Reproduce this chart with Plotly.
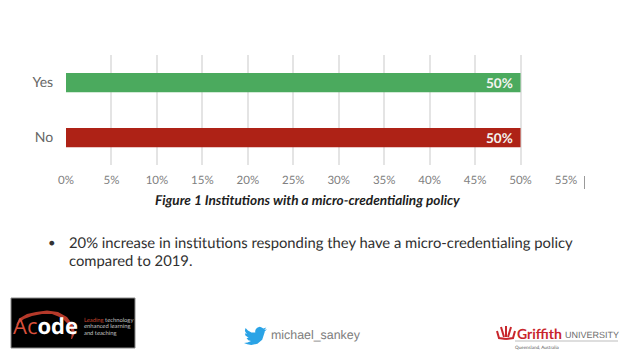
import plotly.graph_objects as go

categories = ["No", "Yes"]
values = [50, 50]
bar_colors = ["#AE2216", "#4BAA5E"]
x_ticks = list(range(0, 60, 5))
x_tick_labels = [f"{t}%" for t in x_ticks]
caption = "Figure 1 Institutions with a micro-credentialing policy"
bullet_lines = [
    "20% increase in institutions responding they have a micro-credentialing policy",
    "compared to 2019.",
]

W, H = 638, 359
L, R, T, B = 66, 72, 55, 194
PW, PH = W - L - R, H - T - B
SANS = "Lato, 'Open Sans', sans-serif"


def px(x):
    return (x - L) / PW


def py(y):
    return 1 - (y - T) / PH


def note(x, y, text, size, color, anchor="left", family=SANS):
    return dict(
        xref="paper", yref="paper", x=px(x), y=py(y), text=text, showarrow=False,
        xanchor=anchor, yanchor="middle", align=anchor,
        font=dict(size=size, color=color, family=family),
        borderpad=0, borderwidth=0,
    )


def poly(points, color):
    d = "M " + " L ".join(f"{px(a):.5f},{py(b):.5f}" for a, b in points) + " Z"
    return dict(type="path", xref="paper", yref="paper", path=d,
                fillcolor=color, line=dict(width=0), layer="above")


def stroke(points, color, width):
    d = "M " + " L ".join(f"{px(a):.5f},{py(b):.5f}" for a, b in points)
    return dict(type="path", xref="paper", yref="paper", path=d,
                line=dict(color=color, width=width), layer="above")


bird = [(23.95, 4.57), (21.13, 5.35), (23.29, 2.62), (20.16, 3.81), (18.5, 2.6), (16.5, 2.0),
        (14.2, 2.6), (12.4, 4.3), (11.65, 6.5), (11.78, 8.29), (7.69, 8.09), (4.1, 6.1),
        (1.64, 3.16), (0.97, 5.64), (1.4, 7.6), (3.16, 9.73), (0.93, 9.12), (1.5, 11.5),
        (4.88, 14.0), (2.67, 14.09), (4.4, 16.5), (7.27, 17.5), (3.8, 19.2), (0, 19.54),
        (3.5, 21.1), (7.56, 21.75), (14, 20.5), (19, 16), (21.55, 8.0), (21.54, 7.13)]
bird_px = [(244 + a * 23 / 24, 325 + b * 22 / 24) for a, b in bird]

swoosh = [(16, 325), (20, 318), (27, 314), (36, 312), (47, 310.5), (58, 312), (67, 317),
          (73, 325), (75, 333), (72, 339), (71, 339), (72, 332), (69, 325), (62, 318),
          (52, 314), (42, 314), (32, 316), (24, 319), (19, 323)]

fig = go.Figure(go.Bar(
    x=values, y=categories, orientation="h",
    marker=dict(color=bar_colors, line=dict(width=0)),
    hoverinfo="skip",
))

annotations = [
    dict(x=v, y=c, xref="x", yref="y", text=f"<b>{v}%</b>", showarrow=False,
         xanchor="right", xshift=-6, font=dict(size=13.5, color="#F4F4F0", family=SANS))
    for c, v in zip(categories, values)
]
annotations += [
    note(308, 199.5, f"<b><i>{caption}</i></b>", 13.6, "#1E1E1E", "center"),
    note(48, 242, "•", 13, "#333333"),
    note(69, 242, bullet_lines[0], 14.8, "#303030"),
    note(69, 260, bullet_lines[1], 14.8, "#303030"),
    note(271, 335, "michael_sankey", 12.4, "#7D7D7D", family="Liberation Sans"),
    # ACODE logo
    note(13, 325, "<span style='color:#D9503C'>Ac</span><b>ode</b>", 22, "#FFFFFF",
         family="'Open Sans', sans-serif"),
    note(84, 319, "<span style='color:#C8452F'>Leading</span> technology", 5.8, "#C4C4C4"),
    note(84, 325, "enhanced learning", 5.8, "#C4C4C4"),
    note(84, 332, "and teaching", 5.8, "#C4C4C4"),
    # Griffith logo
    note(517, 333.5, "<b>Griffith</b>", 14, "#C8262C"),
    note(565, 335, "UNIVERSITY", 9, "#6E6E6E", family="Liberation Sans"),
    note(515, 346.5, "Queensland, Australia", 4.6, "#555555"),
]

shapes = [
    dict(type="line", xref="paper", yref="paper", x0=px(584.5), x1=px(584.5), y0=py(176), y1=py(189),
         line=dict(color="#9A9A9A", width=1)),
    dict(type="rect", xref="paper", yref="paper", x0=px(11), x1=px(135), y0=py(298), y1=py(348),
         fillcolor="#000000", line=dict(color="#8A8A8A", width=1), layer="below"),
    poly(swoosh, "#B5392A"),
    dict(type="line", xref="paper", yref="paper", x0=px(515), x1=px(618), y0=py(341), y1=py(341),
         line=dict(color="#BDBDBD", width=1)),
    poly(bird_px, "#2AA3E6"),
    stroke([(497, 331), (499, 338), (506, 339)], "#C8262C", 2),
    stroke([(501, 327), (504, 337)], "#C8262C", 2),
    stroke([(506, 326), (506, 337)], "#C8262C", 2),
    stroke([(511, 327), (508, 337)], "#C8262C", 2),
    stroke([(515, 331), (513, 338), (506, 339)], "#C8262C", 2),
]

fig.update_layout(
    width=W, height=H, margin=dict(l=L, r=R, t=T, b=B, autoexpand=False),
    paper_bgcolor="#FFFFFF", plot_bgcolor="#FFFFFF", showlegend=False,
    bargap=0.65, annotations=annotations, shapes=shapes,
    xaxis=dict(
        range=[0, 55], tickvals=x_ticks, ticktext=x_tick_labels,
        showgrid=True, gridcolor="#E4E4E4", gridwidth=1.5, zeroline=False, showline=False,
        ticks="outside", ticklen=4, tickcolor="rgba(0,0,0,0)",
        tickfont=dict(size=11.5, color="#808080", family=SANS), fixedrange=True,
    ),
    yaxis=dict(
        showgrid=False, zeroline=False, showline=False,
        ticks="outside", ticklen=9, tickcolor="rgba(0,0,0,0)",
        tickfont=dict(size=14, color="#666666", family=SANS), fixedrange=True,
    ),
)

fig.write_html("out.html", config={"displayModeBar": False},
               post_script="document.body.style.margin='0';document.body.style.overflow='hidden';"
                           "var s=document.createElement('style');"
                           "s.textContent='text{text-rendering:geometricPrecision}';"
                           "document.head.appendChild(s);")
